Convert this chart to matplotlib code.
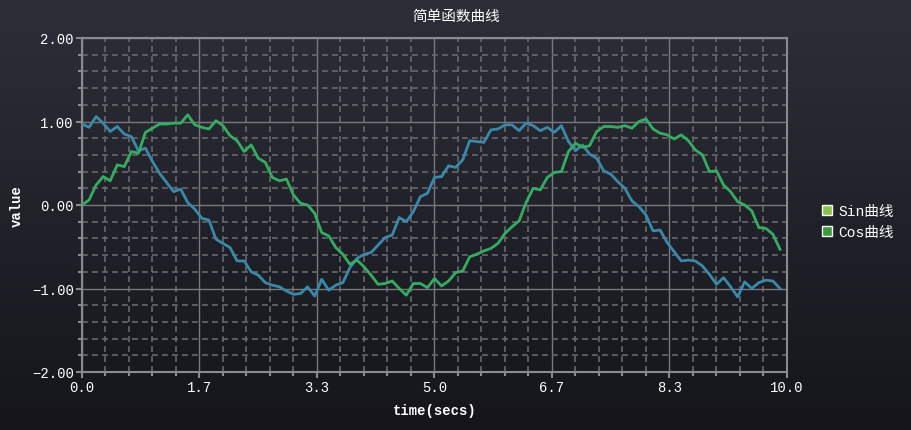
import numpy as np
import matplotlib
matplotlib.use("Agg")
import matplotlib.pyplot as plt
from matplotlib.ticker import MultipleLocator, FixedLocator, FuncFormatter
from matplotlib.lines import Line2D

# --- 数据 ---
x_vals = [round(0.1 * i, 1) for i in range(100)]

sin_vals = [
    0.00, 0.06, 0.24, 0.34, 0.29, 0.48, 0.46, 0.64, 0.62, 0.87,
    0.92, 0.97, 0.97, 0.98, 0.98, 1.08, 0.96, 0.93, 0.91, 1.01,
    0.95, 0.83, 0.77, 0.64, 0.72, 0.56, 0.51, 0.33, 0.29, 0.31,
    0.12, 0.02, 0.00, -0.10, -0.33, -0.37, -0.51, -0.59, -0.71, -0.66,
    -0.74, -0.84, -0.95, -0.94, -0.91, -1.00, -1.08, -0.94, -0.94, -0.99,
    -0.88, -0.97, -0.91, -0.81, -0.79, -0.62, -0.59, -0.55, -0.52, -0.46,
    -0.34, -0.26, -0.19, 0.03, 0.20, 0.18, 0.33, 0.39, 0.40, 0.64,
    0.74, 0.69, 0.71, 0.88, 0.94, 0.94, 0.93, 0.95, 0.92, 1.00,
    1.03, 0.91, 0.86, 0.84, 0.79, 0.84, 0.77, 0.66, 0.60, 0.40,
    0.41, 0.24, 0.16, 0.04, 0.00, -0.07, -0.27, -0.28, -0.35, -0.53,
]

cos_vals = [
    0.97, 0.93, 1.06, 0.98, 0.88, 0.94, 0.85, 0.82, 0.65, 0.68,
    0.52, 0.38, 0.27, 0.16, 0.19, 0.03, -0.05, -0.16, -0.18, -0.41,
    -0.46, -0.51, -0.67, -0.67, -0.80, -0.84, -0.93, -0.96, -0.98, -1.03,
    -1.07, -1.06, -0.98, -1.09, -0.89, -1.02, -0.96, -0.93, -0.75, -0.64,
    -0.59, -0.57, -0.48, -0.39, -0.36, -0.15, -0.20, -0.08, 0.10, 0.14,
    0.33, 0.34, 0.47, 0.45, 0.54, 0.77, 0.76, 0.75, 0.90, 0.91,
    0.96, 0.96, 0.89, 0.98, 0.95, 0.89, 0.93, 0.87, 0.95, 0.76,
    0.65, 0.72, 0.61, 0.56, 0.41, 0.37, 0.28, 0.20, 0.05, -0.02,
    -0.12, -0.31, -0.30, -0.45, -0.56, -0.67, -0.66, -0.67, -0.73, -0.83,
    -0.95, -0.87, -0.98, -1.10, -0.92, -1.00, -0.93, -0.90, -0.91, -1.00,
]

x_ticks = [0.0, 10 / 6, 10 / 3, 5.0, 20 / 3, 25 / 3, 10.0]
y_ticks = [-2.0, -1.0, 0.0, 1.0, 2.0]
legend_labels = ["Sin曲线", "Cos曲线"]

plt.rcParams["font.family"] = ["Liberation Mono", "Noto Sans CJK SC"]
cjk = ["Noto Sans CJK SC", "DejaVu Sans"]

fig = plt.figure(figsize=(9.12, 4.31), dpi=100)

# 背景渐变
bg = fig.add_axes([0, 0, 1, 1], zorder=-10)
grad = np.linspace(0, 1, 256).reshape(-1, 1)
top_c = np.array([0x2d, 0x2f, 0x38]) / 255
bot_c = np.array([0x15, 0x15, 0x1b]) / 255
img = top_c + (bot_c - top_c) * grad[..., None]
bg.imshow(img, aspect="auto", extent=[0, 1, 0, 1])
bg.axis("off")

ax = fig.add_axes([82 / 912, 1 - 373 / 431, (787 - 82) / 912, (373 - 39) / 431])
ax.set_facecolor("none")

ax.plot(x_vals, cos_vals, color="#3a88aa", lw=2, zorder=3)
ax.plot(x_vals, sin_vals, color="#34ad62", lw=2, zorder=3)

ax.set_xlim(0, 10)
ax.set_ylim(-2, 2)
ax.xaxis.set_major_locator(FixedLocator(x_ticks))
ax.xaxis.set_minor_locator(FixedLocator([i / 3 for i in range(31) if i % 5 != 0]))
ax.yaxis.set_major_locator(FixedLocator(y_ticks))
ax.yaxis.set_minor_locator(FixedLocator([round(-2 + 0.2 * i, 1) for i in range(21) if i % 5 != 0]))
ax.xaxis.set_major_formatter(FuncFormatter(lambda v, p: f"{v:.1f}"))
ax.yaxis.set_major_formatter(FuncFormatter(lambda v, p: f"{v:.2f}".replace("-", "\u2212")))

ax.grid(which="major", color="#78787d", lw=1, ls="-", zorder=1)
ax.grid(which="minor", color="#68686d", lw=1.2, ls=(0, (3.5, 2.5)), zorder=1)
ax.set_axisbelow(True)

for s in ax.spines.values():
    s.set_color("#8a8a8e")
    s.set_linewidth(1.5)
ax.tick_params(which="major", length=4, width=1.5, color="#8a8a8e",
               labelcolor="white", labelsize=10, pad=2)
ax.tick_params(which="minor", length=3, width=1.5, color="#8a8a8e")

ax.set_xlabel("time(secs)", color="white", fontsize=10, fontweight="bold", labelpad=6)
ax.set_ylabel("value", color="white", fontsize=10, fontweight="bold", labelpad=6)

fig.text(0.5, 1 - 17 / 431, "简单函数曲线", color="white", fontsize=10.5,
         family=cjk, ha="center", va="center")

handles = [
    Line2D([], [], ls="none", marker="s", ms=7, mfc="#8bc34a", mec="white", mew=1),
    Line2D([], [], ls="none", marker="s", ms=7, mfc="#3c9a3c", mec="white", mew=1),
]
leg = fig.legend(handles, legend_labels, loc="upper left",
                 bbox_to_anchor=(808 / 912, 1 - 192 / 431), frameon=False,
                 handlelength=0.8, handletextpad=0.4, labelspacing=0.5,
                 prop={"size": 10.5})
for t in leg.get_texts():
    t.set_color("white")

fig.savefig("out.png", dpi=100)
